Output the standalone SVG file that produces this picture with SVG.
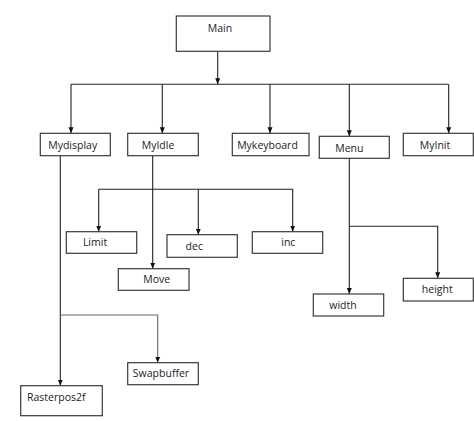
<svg xmlns="http://www.w3.org/2000/svg" width="474" height="421" viewBox="0 0 474 421">
<style>
.box{fill:#fff;stroke:#3a3a3a;stroke-width:1.2}
.t{font-family:"Open Sans","Liberation Sans",sans-serif;font-size:10.5px;fill:#222;text-anchor:middle;dominant-baseline:central}
.c{fill:none;stroke:#222;stroke-width:1.1}
.c2{fill:none;stroke:#666;stroke-width:1.1}
</style>
<defs>
<marker id="ad" markerUnits="userSpaceOnUse" markerWidth="6" markerHeight="6" viewBox="0 0 6 6" refX="6" refY="3" orient="auto">
<path d="M0,0.5 L6,3 L0,5.5 Z" fill="#111"/>
</marker>
</defs>
<rect width="474" height="421" fill="#fff"/>
<g id="connectors">
<path class="c" d="M217.7,51.3 V84.3" marker-end="url(#ad)"/>
<path class="c" d="M71,84.3 H448.7"/>
<path class="c" d="M71,84.3 V133.3" marker-end="url(#ad)"/>
<path class="c" d="M162.3,84.3 V133.3" marker-end="url(#ad)"/>
<path class="c" d="M270,84.3 V133.3" marker-end="url(#ad)"/>
<path class="c" d="M349.3,84.3 V136.3" marker-end="url(#ad)"/>
<path class="c" d="M448.7,84.3 V133.3" marker-end="url(#ad)"/>
<path class="c" d="M60.3,155.7 V385.7" marker-end="url(#ad)"/>
<path class="c2" d="M60.3,315 H157.7 V362.7" marker-end="url(#ad)"/>
<path class="c" d="M152.7,155.7 V268.7" marker-end="url(#ad)"/>
<path class="c" d="M98.7,189.3 H292.7 V231.7" marker-end="url(#ad)"/>
<path class="c" d="M98.7,189.3 V231.7" marker-end="url(#ad)"/>
<path class="c" d="M198.3,189.3 V234.7" marker-end="url(#ad)"/>
<path class="c" d="M349.3,158.3 V294" marker-end="url(#ad)"/>
<path class="c" d="M349.3,226.3 H437.7 V278.3" marker-end="url(#ad)"/>
</g>
<g id="main"><rect class="box" x="176.3" y="16" width="93.7" height="35.3"/><text class="t" x="220" y="27.5">Main</text></g>
<g id="mydisplay"><rect class="box" x="40.3" y="133.3" width="70" height="22.4"/><text class="t" x="72.7" y="144.5">Mydisplay</text></g>
<g id="myidle"><rect class="box" x="127.7" y="133.3" width="70.6" height="22.4"/><text class="t" x="158" y="144.5">MyIdle</text></g>
<g id="mykeyboard"><rect class="box" x="232.3" y="133.3" width="76.7" height="22.4"/><text class="t" x="267.5" y="144.5">Mykeyboard</text></g>
<g id="menu"><rect class="box" x="319.3" y="136.3" width="70" height="22"/><text class="t" x="349.3" y="147.5">Menu</text></g>
<g id="myinit"><rect class="box" x="403.3" y="133.3" width="70" height="22.4"/><text class="t" x="435" y="144.5">MyInit</text></g>
<g id="limit"><rect class="box" x="66.3" y="231.7" width="70.4" height="21.6"/><text class="t" x="95" y="242">Limit</text></g>
<g id="dec"><rect class="box" x="167" y="234.7" width="70.3" height="22.6"/><text class="t" x="194.3" y="245.5">dec</text></g>
<g id="inc"><rect class="box" x="252.3" y="231.7" width="70.4" height="21.6"/><text class="t" x="288.3" y="242">inc</text></g>
<g id="move"><rect class="box" x="118.3" y="268.7" width="70.7" height="21.6"/><text class="t" x="156.7" y="279">Move</text></g>
<g id="width"><rect class="box" x="313.3" y="294" width="70.4" height="22"/><text class="t" x="343" y="304.7">width</text></g>
<g id="height"><rect class="box" x="403.3" y="278.3" width="70" height="22.7"/><text class="t" x="437.3" y="289">height</text></g>
<g id="swapbuffer"><rect class="box" x="127.7" y="362.7" width="70.6" height="22"/><text class="t" x="161" y="373">Swapbuffer</text></g>
<g id="rasterpos2f"><rect class="box" x="20.7" y="385.7" width="81.6" height="30"/><text class="t" x="27" y="397" style="text-anchor:start">Rasterpos2f</text></g>
</svg>
